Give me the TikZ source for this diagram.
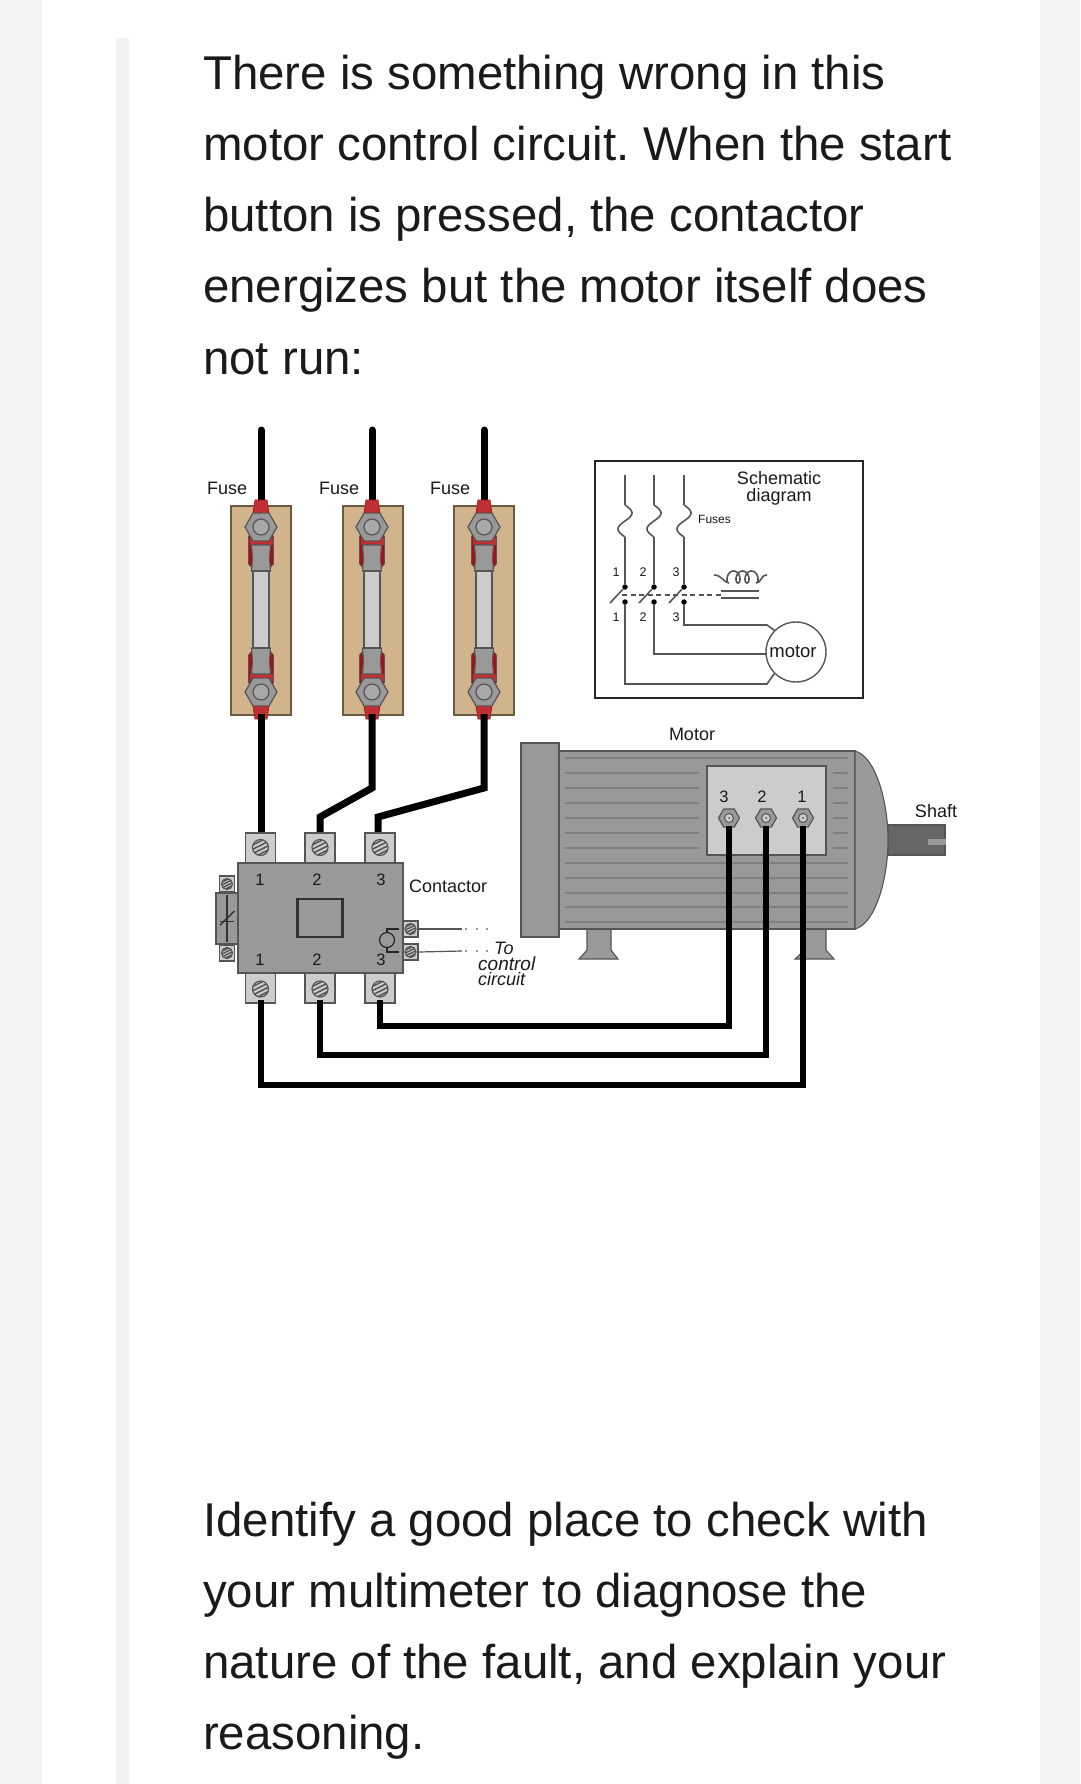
\documentclass[tikz,border=0pt]{standalone}
\usepackage{fontspec}
\setmainfont{Liberation Sans}
\usetikzlibrary{shapes.geometric}
\definecolor{pagegray}{HTML}{F4F4F4}
\definecolor{barfill}{HTML}{F2F2F2}
\definecolor{boardtan}{HTML}{D2B48C}
\definecolor{boardedge}{HTML}{6B5B40}
\definecolor{partgray}{HTML}{999999}
\definecolor{lightpart}{HTML}{CCCCCC}
\definecolor{edgegray}{HTML}{555555}
\definecolor{redtab}{HTML}{BE3033}
\definecolor{redclip}{HTML}{A80F14}
\definecolor{txt}{HTML}{1A1A1A}
\definecolor{ribgray}{HTML}{808080}
\definecolor{shaftgray}{HTML}{666666}
\definecolor{fineline}{HTML}{555555}
\newcommand{\mainsize}{\fontsize{47.4}{71}\selectfont}
\newcommand{\labsize}{\fontsize{18}{19}\selectfont}
\newcommand{\myscrew}[3]{%
  \begin{scope}
    \fill[lightpart] (#1,#2) circle[radius=#3];
    \clip (#1,#2) circle[radius=#3];
    \foreach \dd in {-0.8,-0.27,0.27,0.8}{
      \draw[edgegray,line width=1.5pt] ({#1-1.2*#3},{#2+\dd*#3+0.6*#3}) -- ({#1+1.2*#3},{#2+\dd*#3-0.6*#3});
    }
  \end{scope}
  \draw[edgegray,line width=1.2pt] (#1,#2) circle[radius=#3];
}
\tikzset{
  bodytext/.style={anchor=base west,inner sep=0,font=\mainsize\frenchspacing,text=txt},
  lab/.style={inner sep=0,font=\labsize,text=txt},
  wire/.style={line width=7pt,black},
  wirefine/.style={line width=5.4pt,black,line join=miter},
  part/.style={draw=edgegray,line width=1.1pt,fill=partgray},
  lightbox/.style={draw=edgegray,line width=1.2pt,fill=lightpart},
  terminal/.style={lightbox,rectangle,minimum width=30pt,minimum height=30pt,inner sep=0},
  smallterm/.style={lightbox,rectangle,minimum width=15pt,minimum height=16pt,inner sep=0},
  hexnut/.style={regular polygon,regular polygon sides=6,draw=edgegray,line width=1.2pt,fill=partgray,inner sep=0,minimum size=#1},
  schline/.style={fineline,line width=1.6pt},
  rib/.style={ribgray,line width=2pt},
}
\begin{document}
\begin{tikzpicture}[x=1pt,y=-1pt]
\useasboundingbox (0,0) rectangle (1080,1784);
% page
\fill[pagegray] (0,0) rectangle (1080,1784);
\fill[white] (42,0) rectangle (1040,1784);
\fill[barfill] (116,38) rectangle (129,1784);
% text
\node[bodytext] (t1) at (203,90) {There is something wrong in this};
\node[bodytext] (t2) at (203,161) {motor control circuit. When the start};
\node[bodytext] (t3) at (203,232) {button is pressed, the contactor};
\node[bodytext] (t4) at (203,303) {energizes but the motor itself does};
\node[bodytext] (t5) at (203,374) {not run:};
\node[bodytext] (b1) at (203,1536) {Identify a good place to check with};
\node[bodytext] (b2) at (203,1607) {your multimeter to diagnose the};
\node[bodytext] (b3) at (203,1678) {nature of the fault, and explain your};
\node[bodytext] (b4) at (203,1749) {reasoning.};

% fuses
\foreach \n/\x/\bl in {1/261/231,2/372/343,3/484/454}{
  \coordinate (in\n) at (\x,430);
  \coordinate (ftop\n) at (\x,505);
  \coordinate (fbot\n) at (\x,714);
  \draw[wire,line cap=round] (in\n) -- (ftop\n);
  \draw[draw=boardedge,line width=1.2pt,fill=boardtan] (\bl,506) rectangle (\bl+60,715);
  \foreach \m/\s in {0/-1pt,1219/1pt}{
    \begin{scope}[shift={(\x,\m)},y={(0,\s)}]
      \path[fill=redtab,draw=redclip,line width=.6pt] (-6,500) -- (6,500) -- (8.5,516) -- (-8.5,516) -- cycle;
      \path[fill=redclip,draw=edgegray,line width=.6pt] (-12.5,536) -- (12.5,536) -- (12.5,564) -- (9,568) -- (-9,568) -- (-12.5,564) -- cycle;
      \fill[redtab] (-11.5,538) rectangle (11.5,545);
      \draw[part] (-9.5,545) -- (9.5,545) -- (8.5,558) -- (9.5,571) -- (-9.5,571) -- (-8.5,558) -- cycle;
    \end{scope}
  }
  \draw[lightbox] (\x-8,571) rectangle (\x+8,648);
  \node[hexnut=32pt] (ntop\n) at (\x,527) {};
  \draw[edgegray,line width=1.2pt,fill=partgray!85!white] (ntop\n.center) circle[radius=8];
  \node[hexnut=32pt] (nbot\n) at (\x,692) {};
  \draw[edgegray,line width=1.2pt,fill=partgray!85!white] (nbot\n.center) circle[radius=8];
}
\node[lab,anchor=west] (fl1) at (207,488) {Fuse};
\node[lab,anchor=west] (fl2) at (319,488) {Fuse};
\node[lab,anchor=west] (fl3) at (430,488) {Fuse};

% contactor terminals
\coordinate (bend2a) at (372,788);
\coordinate (bend2b) at (320,817);
\coordinate (bend3a) at (484,788);
\coordinate (bend3b) at (378,817);
\coordinate (tiw1) at (261,840);
\coordinate (tiw2) at (320,840);
\coordinate (tiw3) at (378,840);
\draw[wire] (fbot1) -- (tiw1);
\draw[wire,line join=miter] (fbot2) -- (bend2a) -- (bend2b) -- (tiw2);
\draw[wire,line join=miter] (fbot3) -- (bend3a) -- (bend3b) -- (tiw3);
\foreach \n/\x in {1/260.5,2/320,3/380}{
  \node[terminal] (ti\n) at (\x,848) {};
  \node[terminal] (to\n) at (\x,988) {};
  \myscrew{\x}{847.5}{8}
  \myscrew{\x}{989}{8}
}
% contactor body
\node[rectangle,part,minimum width=165pt,minimum height=110pt,inner sep=0] (cont) at (320.5,918) {};
\node[rectangle,draw=black!80,line width=2.4pt,minimum width=45pt,minimum height=38pt,inner sep=0] (window) at (320,918) {};
\foreach \n/\x/\l in {1/260/1,2/317/2,3/381/3}{
  \node[lab,font=\fontsize{16.5}{17}\selectfont] (tl\n) at (\x,880) {\l};
  \node[lab,font=\fontsize{16.5}{17}\selectfont] (bl\n) at (\x,960) {\l};
}
% aux contact
\node[rectangle,part,minimum width=22pt,minimum height=51pt,inner sep=0] (aux) at (227,918.5) {};
\node[smallterm] (auxa) at (227,884) {};
\node[smallterm] (auxb) at (227,953) {};
\myscrew{227}{884}{5.5}
\myscrew{227}{953}{5.5}
\draw[black!80,line width=1.2pt] (227,895) -- (227,942);
\draw[black!80,line width=1.4pt] (220,925) -- (234.5,911);
\draw[black!80,line width=1.2pt] (220,921.5) -- (234,921.5);
% coil terminals
\node[smallterm] (c1) at (410.5,929) {};
\node[smallterm] (c2) at (410.5,952) {};
\myscrew{410.5}{929}{5.5}
\myscrew{410.5}{952}{5.5}
\node[circle,draw=black!85,line width=1.2pt,minimum size=15pt,inner sep=0] (coilc) at (387,940) {};
\coordinate (cl1) at (399,929);
\coordinate (cl2) at (399,952);
\draw[black!85,line width=1.2pt] (cl1) -| (coilc.north);
\draw[black!85,line width=1.2pt] (cl2) -| (coilc.south);
\coordinate (ctl1) at (462,929);
\coordinate (ctl2) at (462,951);
\draw[fineline,line width=1.2pt] (c1.east) -- (ctl1);
\draw[fineline,line width=1.2pt] (c2.east) -- (ctl2);
\foreach \y in {929,951}{
  \foreach \x in {466,477,487}{ \fill[black!80] (\x,\y) circle[radius=.9]; }
}
\node[lab,anchor=west] (contl) at (409,886) {Contactor};
\node[lab,anchor=west,font=\itshape\labsize] (ctrl1) at (494,948) {To};
\node[lab,anchor=west,font=\itshape\fontsize{19}{15}\selectfont] (ctrl2) at (478,963.5) {control};
\node[lab,anchor=west,font=\itshape\labsize] (ctrl3) at (478,979) {circuit};

% schematic
\node[rectangle,draw=black!85,line width=2.4pt,minimum width=268pt,minimum height=237pt,inner sep=0] (schem) at (729,579.5) {};
\foreach \n/\x/\la in {1/625/616,2/654/643,3/684/676}{
  \coordinate (st\n) at (\x,475);
  \coordinate (fa\n) at (\x,505);
  \coordinate (fb\n) at (\x,537);
  \node[circle,fill=black,inner sep=0,minimum size=5.5pt] (up\n) at (\x,587) {};
  \node[circle,fill=black,inner sep=0,minimum size=5.5pt] (dn\n) at (\x,602) {};
  \draw[schline] (st\n) -- (fa\n);
  \draw[schline] plot[variable=\tv,domain=0:360,samples=40,smooth] ({\x+7*sin(\tv)},{505+32*\tv/360});
  \draw[schline] (fb\n) -- (up\n);
  \draw[schline] (\x-15,603) -- (up\n);
  \node[lab,font=\fontsize{12.5}{13}\selectfont] (sa\n) at (\la,572) {\n};
  \node[lab,font=\fontsize{12.5}{13}\selectfont] (sb\n) at (\la,617) {\n};
}
\node[circle,draw=fineline,line width=1.4pt,minimum size=60pt,inner sep=0] (smotor) at (796,652) {};
\node[lab,font=\fontsize{18.5}{19}\selectfont] (motorlab) at (793,652) {motor};
\coordinate (m3) at (767,625);
\coordinate (m2) at (766,654);
\coordinate (m1) at (767,684);
\draw[schline] (dn3) |- (m3) -- (smotor.135);
\draw[schline] (dn2) |- (m2);
\draw[schline] (dn1) |- (m1) -- (smotor.225);
\coordinate (dash1) at (622,595);
\coordinate (dash2) at (722,595);
\draw[fineline,line width=1.6pt,dash pattern=on 5pt off 3.5pt] (dash1) -- (dash2);
\coordinate (ca) at (714,575);
\coordinate (cb) at (767,575);
\draw[schline] (ca) .. controls (722,575) and (724,583) .. (729,583)
  -- plot[variable=\tv,domain=0:1080,samples=90,smooth] ({729+\tv/40 - 4*sin(\tv)},{577+6*cos(\tv)})
  .. controls (762,583) and (760,575) .. (cb);
\draw[schline] (721,591) -- (759,591);
\draw[schline] (721,598) -- (759,598);
\node[lab] (sch1) at (779,478) {Schematic};
\node[lab] (sch2) at (779,497) {diagram};
\node[lab,anchor=west,font=\fontsize{12}{12}\selectfont] (fuses) at (698,519.5) {Fuses};

% motor
\draw[part] (579,959) -- (587,950) -- (587,929) -- (611,929) -- (611,950) -- (618,959) -- cycle;
\draw[part] (795,959) -- (805,950) -- (805,929) -- (826,929) -- (826,950) -- (834,959) -- cycle;
\node[rectangle,draw=edgegray,fill=shaftgray,line width=1.2pt,minimum width=57pt,minimum height=30pt,inner sep=0] (shaft) at (916.5,840) {};
\draw[partgray,line width=1.2pt,fill=partgray] (929,840) rectangle (945,844);
\node[rectangle,part,minimum width=296pt,minimum height=178pt,inner sep=0] (body) at (707,840) {};
\node[rectangle,part,minimum width=38pt,minimum height=194pt,inner sep=0] (flange) at (540,840) {};
\draw[part] (855,751) .. controls (875,756) and (888,800) .. (888,840) .. controls (888,880) and (875,924) .. (855,929) -- cycle;
\foreach \y in {758,862.5,877.5,892.5,907,922}{ \draw[rib] (565,\y) -- (848,\y); }
\foreach \y in {773,788,803,818,833,848}{
  \draw[rib] (565,\y) -- (699,\y);
  \draw[rib] (833,\y) -- (848,\y);
}
\node[rectangle,lightbox,minimum width=119pt,minimum height=89pt,inner sep=0] (tbox) at (766.5,810.5) {};
\foreach \n/\x/\lx in {3/729/724,2/766/762,1/803/802}{
  \node[lab,font=\fontsize{16.5}{17}\selectfont] (ml\n) at (\lx,797) {\n};
  \node[hexnut=21pt] (mt\n) at (\x,818) {};
  \draw[edgegray,line width=1pt,fill=lightpart] (mt\n.center) circle[radius=4.5];
  \fill[edgegray] (mt\n.center) circle[radius=1];
}
\node[lab] (motl) at (692,734) {Motor};
\node[lab] (shl) at (936,811) {Shaft};

% output wires
\foreach \n/\xa/\xb/\yy in {1/261/803/1085,2/320/766/1055,3/380/729/1026}{
  \coordinate (os\n) at (\xa,1000);
  \coordinate (oa\n) at (\xa,\yy);
  \coordinate (ob\n) at (\xb,\yy);
  \coordinate (oe\n) at (\xb,826);
  \draw[wirefine] (os\n) -- (oa\n) -- (ob\n) -- (oe\n);
}
\end{tikzpicture}
\end{document}
